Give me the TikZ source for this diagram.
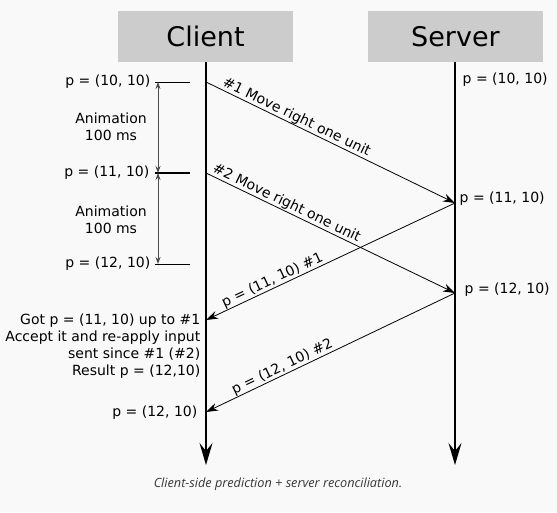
\documentclass[tikz,border=0pt]{standalone}
\usepackage{fontspec}
\setmainfont{DejaVu Sans}
\newfontfamily\capfont{Open Sans}
\usetikzlibrary{arrows.meta,positioning}
\definecolor{bg}{RGB}{249,249,249}
\definecolor{head}{RGB}{204,204,204}
\definecolor{capgray}{RGB}{55,55,60}

\begin{document}
\begin{tikzpicture}[x=1pt,y=-1pt,
  header/.style={fill=head, minimum width=175pt, minimum height=51pt, inner sep=0pt, font=\fontsize{27}{30}\selectfont},
  lbl/.style={inner sep=0.5pt, font=\fontsize{14}{17}\selectfont},
  msg/.style={-{Stealth[length=12pt,width=8pt]}, line width=0.8pt},
  life/.style={-{Stealth[length=22pt,width=13pt,inset=8pt]}, line width=1.2pt},
  anim/.style={{Stealth[length=7pt,width=5pt]}-{Stealth[length=7pt,width=5pt]}, black!70, line width=0.9pt}]
\fill [bg] (0,0) rectangle (557,512);
\useasboundingbox (0,0) rectangle (557,512);

% headers and life lines
\node [header] (client) at (205.5,36.5) {Client};
\node [header] (server) at (455.5,36.5) {Server};
\coordinate (cend) at (206,465);
\coordinate (send) at (455,465);
\draw [life] (client.south -| cend) -- (cend);
\draw [life] (server.south -| send) -- (send);

% events on the life lines
\coordinate (c1) at (206,82);
\coordinate (c2) at (206,173);
\coordinate (c4) at (206,320);
\coordinate (c5) at (206,412);
\coordinate (s1) at (455,203);
\coordinate (s2) at (455,293);

% client side animation
\coordinate (t1) at (190,82);
\coordinate (t2) at (190,173);
\coordinate (t3) at (190,264);
\draw [line width=0.6pt] (155,82) -- (t1);
\draw [line width=1.3pt] (155,173) -- (t2);
\draw [line width=0.6pt] (155,264) -- (t3);
\coordinate (d1) at (158,82);
\coordinate (d2) at (158,173);
\coordinate (d3) at (158,264);
\draw [anim] (d1) -- (d2);
\draw [anim] (d2) -- (d3);
\node [lbl, anchor=east] (cp1) at (151,82) {p = (10, 10)};
\node [lbl, anchor=east] (cp2) at (150,173) {p = (11, 10)};
\node [lbl, anchor=east] (cp3) at (151,264) {p = (12, 10)};
\node [lbl, align=center] (an1) at (111,127) {Animation\\100 ms};
\node [lbl, align=center] (an2) at (111,220) {Animation\\100 ms};

% messages
\draw [msg] (c1) -- node [lbl, sloped, above, pos=0.35] {\#1 Move right one unit} (s1);
\draw [msg] (c2) -- node [lbl, sloped, above, pos=0.31] {\#2 Move right one unit} (s2);
\draw [msg] (s1) -- node [lbl, sloped, above, pos=0.72] {p = (11, 10) \#1} (c4);
\draw [msg] (s2) -- node [lbl, sloped, above, pos=0.68] {p = (12, 10) \#2} (c5);

% server states
\node [lbl, anchor=west] (sp1) at (462,80) {p = (10, 10)};
\node [lbl, anchor=west] (sp2) at (459,199) {p = (11, 10)};
\node [lbl, anchor=west] (sp3) at (464,290) {p = (12, 10)};

% reconciliation
\node [lbl, align=right, anchor=east] (recon) at (201,346) {Got p = (11, 10) up to \#1\\Accept it and re-apply input\\sent since \#1 (\#2)\\Result p = (12,10)};
\node [lbl, anchor=east] (cp5) at (198,413) {p = (12, 10)};

\node [text=capgray, font=\capfont\itshape\fontsize{12.7}{15}\selectfont] (caption) at (278,484) {Client-side prediction + server reconciliation.};
\end{tikzpicture}
\end{document}
